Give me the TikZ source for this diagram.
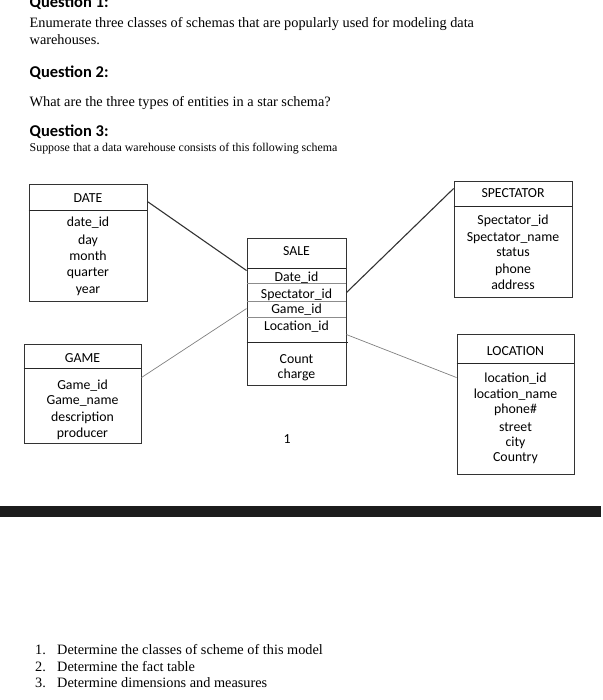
\documentclass[tikz,border=0pt]{standalone}
\usepackage{fontspec}
\setmainfont{Liberation Serif}
\newfontfamily\calibri{Carlito}

\begin{document}
\begin{tikzpicture}[x=1pt, y=-1pt,
    tbl/.style={draw=black!80, line width=0.9pt, rectangle, inner sep=0pt},
    attr/.style={font=\calibri\fontsize{13.8}{16}\selectfont, anchor=base, inner sep=0pt},
    heading/.style={font=\calibri\bfseries\fontsize{16.5}{20}\selectfont, anchor=base west, inner sep=0pt},
    body/.style={font=\fontsize{14.3}{17}\selectfont, anchor=base west, inner sep=0pt},
    thick sep/.style={line width=1.8pt, black!85},
    thin sep/.style={line width=0.6pt, black!45},
    link/.style={line width=1.1pt, black!80},
    faint link/.style={line width=0.7pt, black!50}]
    \useasboundingbox (0,0) rectangle (602,700);

    % questions
    \node[heading] (q1) at (29.5,8) {Question 1:};
    \node[body] (q1a) at (29.5,28) {Enumerate three classes of schemas that are popularly used for modeling data};
    \node[body] (q1b) at (29.5,45) {warehouses.};
    \node[heading] (q2) at (29.5,78) {Question 2:};
    \node[body] (q2a) at (29.5,107) {What are the three types of entities in a star schema?};
    \node[heading] (q3) at (29.5,137) {Question 3:};
    \node[body, font=\fontsize{11.9}{14}\selectfont] (q3a) at (29.5,152) {Suppose that a data warehouse consists of this following schema};

    % tables
    \node[tbl, minimum width=118pt, minimum height=117pt] (date) at (88,242.5) {};
    \node[tbl, minimum width=99pt, minimum height=147pt] (sale) at (296.5,311.5) {};
    \node[tbl, minimum width=117pt, minimum height=99pt] (game) at (82.5,393.5) {};
    \node[tbl, minimum width=118pt, minimum height=116pt] (spectator) at (513,239) {};
    \node[tbl, minimum width=117pt, minimum height=140pt] (location) at (515.5,404) {};

    \draw[thick sep] ([yshift=-27pt]date.north west) -- ([yshift=-27pt]date.north east);
    \draw[thick sep] ([yshift=-31pt]sale.north west) -- ([yshift=-31pt]sale.north east);
    \draw[thin sep] ([yshift=-46pt]sale.north west) -- ([yshift=-46pt]sale.north east);
    \draw[thin sep] ([yshift=-64pt]sale.north west) -- ([yshift=-64pt]sale.north east);
    \draw[thin sep] ([yshift=-80pt]sale.north west) -- ([yshift=-80pt]sale.north east);
    \draw[thick sep] ([yshift=-105pt]sale.north west) -- ([yshift=-105pt,xshift=2pt]sale.north east);
    \draw[thick sep] ([yshift=-25pt]game.north west) -- ([yshift=-25pt]game.north east);
    \draw[thick sep] ([yshift=-26pt]spectator.north west) -- ([yshift=-26pt]spectator.north east);
    \draw[thick sep] ([yshift=-30pt]location.north west) -- ([yshift=-30pt]location.north east);

    % titles and attributes
    \node[attr] (dateT) at (88,203) {DATE};
    \foreach \t/\y [count=\i] in {date\_id/227, day/244, month/260, quarter/276, year/293}
        \node[attr] (date\i) at (88,\y) {\t};

    \node[attr] (saleT) at (296.5,255) {SALE};
    \foreach \t/\y [count=\i] in {Date\_id/281, Spectator\_id/298, Game\_id/313, Location\_id/330, Count/363, charge/378}
        \node[attr] (sale\i) at (296.5,\y) {\t};

    \node[attr] (gameT) at (82.5,362) {GAME};
    \foreach \t/\y [count=\i] in {Game\_id/389, Game\_name/404, description/421, producer/437}
        \node[attr] (game\i) at (82.5,\y) {\t};

    \node[attr] (spectatorT) at (513,198) {SPECTATOR};
    \foreach \t/\y [count=\i] in {Spectator\_id/225, Spectator\_name/242, status/257, phone/273, address/289}
        \node[attr] (spectator\i) at (513,\y) {\t};

    \node[attr] (locationT) at (515.5,355) {LOCATION};
    \foreach \t/\y [count=\i] in {location\_id/382, location\_name/398, phone\#/413, street/431, city/446, Country/461}
        \node[attr] (location\i) at (515.5,\y) {\t};

    \node[attr] (page) at (287,443) {1};

    % links
    \draw[link] ([yshift=-18pt]date.north east) -- ([yshift=-33pt]sale.north west);
    \draw[faint link] ([yshift=-34pt]game.north east) -- ([yshift=-71pt]sale.north west);
    \draw[link] ([yshift=-55pt]sale.north east) -- ([yshift=-8pt]spectator.north west);
    \draw[faint link] ([yshift=-97pt]sale.north east) -- ([yshift=-44pt]location.north west);

    % bar and tasks
    \fill[black!89] (0,506) rectangle (601,517);
    \foreach \t/\y [count=\i] in {Determine the classes of scheme of this model/654, Determine the fact table/671, Determine dimensions and measures/687} {
        \node[body] (num\i) at (35,\y) {\i.};
        \node[body] (task\i) at (57,\y) {\t};
    }
\end{tikzpicture}
\end{document}
